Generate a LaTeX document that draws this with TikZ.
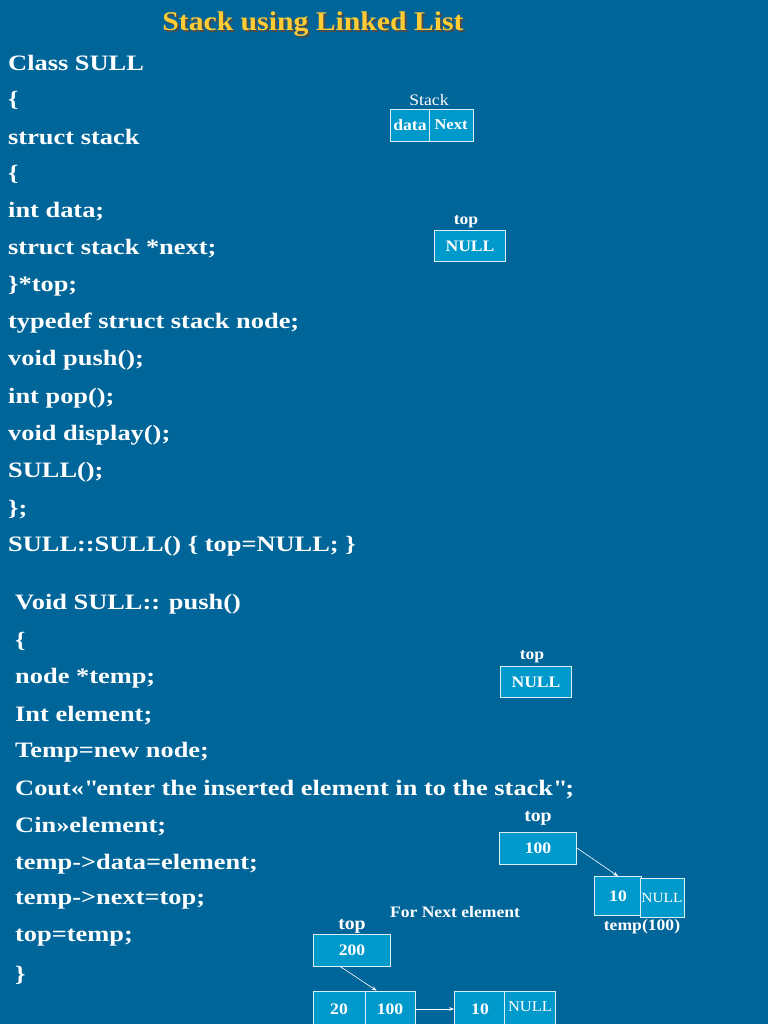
\documentclass[tikz,border=0pt]{standalone}
\usepackage{fontspec}
\setmainfont[FakeStretch=1.2]{Liberation Serif}
\newfontfamily\ttlfont[FakeStretch=1.1]{Liberation Serif}
\newfontfamily\smfont[FakeStretch=1.1]{Liberation Serif}
\usetikzlibrary{arrows.meta}
\definecolor{bg}{HTML}{006699}
\definecolor{boxc}{HTML}{0099CC}
\definecolor{ttl}{HTML}{FFCC33}
\tikzset{
 code/.style={anchor=west,text=white,font=\bfseries\fontsize{22}{22}\selectfont,inner sep=0},
 cell/.style={draw=white!85!boxc,fill=boxc,line width=0.8pt,text=white,font=\smfont\bfseries\fontsize{16}{16}\selectfont,inner sep=0},
 lbl/.style={text=white,font=\smfont\bfseries\fontsize{16}{16}\selectfont,inner sep=0},
 arr/.style={draw=white,line width=0.6pt,-{Stealth[length=5pt]}}
}
\begin{document}
\begin{tikzpicture}[x=1pt,y=-1pt]
\fill[bg] (0,0) rectangle (768,1024);
\useasboundingbox (0,0) rectangle (768,1024);
\node[text=black!70,font=\ttlfont\bfseries\fontsize{27}{27}\selectfont] (tsh) at (315,26) {Stack using Linked List};
\node[text=ttl,font=\ttlfont\bfseries\fontsize{27}{27}\selectfont] (title) at (313,24) {Stack using Linked List};
\foreach \t [count=\i from 0] in {Class SULL,\{,struct stack,\{,int data;,struct stack *next;,\}*top;,typedef struct stack node;,void push();,int pop();,void display();,SULL();,\};,SULL::SULL() \{ top=NULL; \}}
 \node[code] (a\i) at (8,{63+37.2*\i}) {\t};
\foreach \t [count=\i from 0] in {Void SULL:: push(),\{,node *temp;,Int element;,Temp=new node;,{Cout\textless\textless\textquotedbl enter the inserted element in to the stack\textquotedbl;},Cin\textgreater\textgreater element;,temp->data=element;,temp->next=top;,top=temp;,\}}
 \node[code] (b\i) at (15,{604+37.1*\i}) {\t};
% Stack struct
\node[lbl,font=\smfont\fontsize{16}{16}\selectfont] (stl) at (429,100) {Stack};
\node[cell,minimum width=39,minimum height=32] (sd) at (410,125) {data};
\node[cell,minimum width=44,minimum height=32,font=\smfont\bfseries\fontsize{15}{15}\selectfont] (sn) at (451,125) {Next};
% top NULL
\node[lbl] (t1) at (466,222) {top};
\node[cell,minimum width=71,minimum height=31] (n1) at (470,246) {NULL};
\node[lbl] (t2) at (532,657) {top};
\node[cell,minimum width=71,minimum height=31] (n2) at (536,682) {NULL};
% top 100
\node[lbl,font=\smfont\bfseries\fontsize{18}{18}\selectfont] (t3) at (538,818) {top};
\node[cell,minimum width=77,minimum height=32] (h1) at (538,848) {100};
\node[cell,minimum width=47,minimum height=39] (e1d) at (618,896) {10};
\node[cell,minimum width=44,minimum height=39,font=\smfont\fontsize{14}{14}\selectfont] (e1n) at (662,898) {NULL};
\node[lbl] (tmp) at (642,927) {temp(100)};
\draw[arr] (h1.east) -- (e1d.north);
% next element
\node[lbl] (fn) at (455,912) {For Next element};
\node[lbl,font=\smfont\bfseries\fontsize{18}{18}\selectfont] (t4) at (352,926) {top};
\node[cell,minimum width=77,minimum height=32] (h2) at (352,950) {200};
\node[cell,minimum width=52,minimum height=36] (e2d) at (339,1009) {20};
\node[cell,minimum width=50,minimum height=36] (e2n) at (390,1009) {100};
\node[cell,minimum width=51,minimum height=36] (e3d) at (480,1009) {10};
\node[cell,minimum width=51,minimum height=36,font=\smfont\fontsize{15}{15}\selectfont] (e3n) at (530,1009) {\raisebox{4pt}{NULL}};
\draw[arr] ([xshift=-12pt]h2.south) -- ([xshift=12pt]e2n.north west);
\draw[arr] (e2n.east) -- (e3d.west);
\end{tikzpicture}
\end{document}
